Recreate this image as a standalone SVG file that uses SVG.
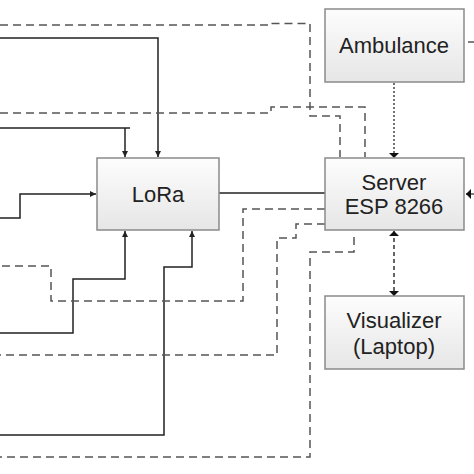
<svg xmlns="http://www.w3.org/2000/svg" width="474" height="474" viewBox="0 0 474 474">
<defs>
<linearGradient id="g" x1="0" y1="0" x2="0" y2="1">
<stop offset="0" stop-color="#fdfdfd"/>
<stop offset="1" stop-color="#e6e6e6"/>
</linearGradient>
<marker id="a" markerUnits="userSpaceOnUse" markerWidth="8" markerHeight="8" refX="6" refY="3" orient="auto">
<path d="M0,0 L6,3 L0,6 Z" fill="#222"/>
</marker>
<marker id="b" markerUnits="userSpaceOnUse" markerWidth="10" markerHeight="12" refX="5" refY="5" orient="auto">
<path d="M0,0 L5,5 L0,10 Z" fill="#111"/>
</marker>
<marker id="bs" markerUnits="userSpaceOnUse" markerWidth="10" markerHeight="12" refX="0" refY="5" orient="auto">
<path d="M5,0 L0,5 L5,10 Z" fill="#111"/>
</marker>
</defs>
<style>
.box{fill:url(#g);stroke:#8a8a8a;stroke-width:1.5}
.t{font-family:"Liberation Sans",Arial,sans-serif;font-size:22px;fill:#222;text-anchor:middle}
.s{fill:none;stroke:#222;stroke-width:1.5}
.d{fill:none;stroke:#555;stroke-width:1.5;stroke-dasharray:8 5}
.dot{fill:none;stroke:#444;stroke-width:1.5;stroke-dasharray:2 2}
.bd{fill:none;stroke:#333;stroke-width:1.5;stroke-dasharray:4 3}
</style>
<g id="connectors">
<path class="s" d="M0,38 H158 V157" marker-end="url(#a)"/>
<path class="s" d="M0,128 H130"/>
<path class="s" d="M125,128 V157" marker-end="url(#a)"/>
<path class="s" d="M0,218 H20 V194 H96" marker-end="url(#a)"/>
<path class="s" d="M0,333 H73 V279 H125 V231" marker-end="url(#a)"/>
<path class="s" d="M0,435 H164 V267 H192 V231" marker-end="url(#a)"/>
<path class="s" d="M219,193 H325"/>
<path class="d" d="M0,25 H270 V23.5 H310 V116 H340 V157"/>
<path class="d" d="M0,113 H271 V107 H365 V157"/>
<path class="d" d="M325,209 H243 V301 H51 V266 H0"/>
<path class="d" d="M325,224 H296 V238 H277 V355 H0"/>
<path class="d" d="M354,237 V252 H310 V457 H0"/>
<path class="d" d="M468,42 H474"/>
<path class="d" d="M469,194 H474"/>
<path class="s" d="M469,194 H466" marker-end="url(#b)"/>
<path class="dot" d="M394,83 V158" marker-end="url(#b)"/>
<path class="bd" d="M394,231 V296" marker-start="url(#bs)" marker-end="url(#b)"/>
</g>
<g id="lora">
<rect class="box" x="97" y="158" width="122" height="72"/>
<text class="t" x="158" y="202">LoRa</text>
</g>
<g id="ambulance">
<rect class="box" x="325" y="9" width="139" height="73"/>
<text class="t" x="394" y="53">Ambulance</text>
</g>
<g id="server">
<rect class="box" x="325" y="158" width="139" height="72"/>
<text class="t" x="394" y="190">Server</text>
<text class="t" x="394" y="214">ESP 8266</text>
</g>
<g id="visualizer">
<rect class="box" x="325" y="296" width="139" height="73"/>
<text class="t" x="394" y="328">Visualizer</text>
<text class="t" x="394" y="354">(Laptop)</text>
</g>
</svg>
